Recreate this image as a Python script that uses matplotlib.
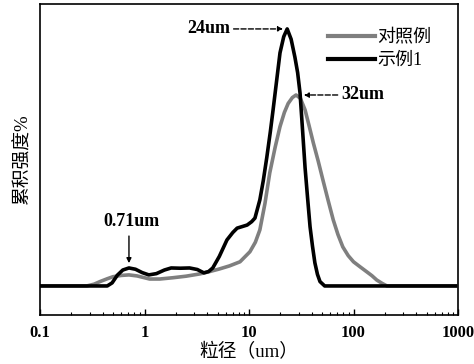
import numpy as np
import matplotlib
matplotlib.use("Agg")
from matplotlib import pyplot as plt

# particle size distribution (x in um, y in arbitrary units)
size_ctrl = [0.1, 0.28, 0.33, 0.375, 0.44, 0.5, 0.6, 0.71, 0.85, 1.12, 1.4, 1.87, 2.5, 3.4,
             4.2, 5.2, 6.5, 8.2, 10.2, 11.5, 12.7, 14.2, 15.8, 17.8, 19.8, 21.8, 23.7, 26,
             28.2, 31, 34.4, 37.5, 41.3, 46, 51, 57, 64, 71, 79, 89, 100, 116, 134, 150,
             167, 188, 209, 1000]
int_ctrl = [0.0, 0.0, 0.07, 0.17, 0.28, 0.36, 0.41, 0.43, 0.39, 0.27, 0.27, 0.32, 0.38, 0.47,
            0.56, 0.66, 0.78, 0.94, 1.33, 1.7, 2.18, 3.2, 4.4, 5.4, 6.2, 6.75, 7.1, 7.33,
            7.43, 7.3, 6.85, 6.25, 5.56, 4.85, 4.12, 3.35, 2.57, 2.0, 1.52, 1.18, 0.94, 0.74,
            0.55, 0.4, 0.23, 0.1, 0.0, 0.0]

size_ex1 = [0.1, 0.44, 0.49, 0.55, 0.62, 0.71, 0.82, 0.95, 1.1, 1.3, 1.55, 1.8, 2.2, 2.7,
            3.2, 3.7, 4.1, 4.5, 5.2, 6.15, 7.0, 7.7, 8.6, 9.6, 10.6, 11.4, 12.7, 13.7, 14.8,
            16.0, 17.0, 18.4, 19.8, 21.5, 23.2, 25.3, 27.5, 29.2, 30.8, 32.5, 34.4, 36.4,
            38.4, 40.5, 42.7, 45.2, 47.8, 53, 940]
int_ex1 = [0.0, 0.0, 0.12, 0.42, 0.62, 0.70, 0.65, 0.52, 0.43, 0.48, 0.62, 0.70, 0.69, 0.70,
           0.64, 0.51, 0.56, 0.70, 1.15, 1.79, 2.08, 2.25, 2.31, 2.37, 2.5, 2.64, 3.35, 4.1,
           5.0, 6.0, 6.85, 8.0, 9.07, 9.7, 10.0, 9.6, 8.9, 8.3, 7.5, 6.1, 4.6, 3.4,
           2.3, 1.55, 0.9, 0.45, 0.17, 0.0, 0.0]

xticks = [0.1, 1, 10, 100, 1000]
xticklabels = ["0.1", "1", "10", "100", "1000"]

cjk = ["Liberation Serif", "Noto Sans CJK SC"]

fig = plt.figure(figsize=(4.74, 3.64), dpi=100)
ax = fig.add_axes([40 / 474, 49 / 364, 418 / 474, 311 / 364])

ax.plot(size_ctrl, int_ctrl, color="#7f7f7f", lw=2.6, label="对照例", solid_joinstyle="round")
ax.plot(size_ex1, int_ex1, color="black", lw=2.6, label="示例1", solid_joinstyle="round")

ax.set_xscale("log")
ax.set_xlim(0.1, 1000)
ax.set_ylim(-1.13, 10.97)
ax.set_yticks([])
ax.set_xticks(xticks)
ax.set_xticklabels(xticklabels, fontfamily="Liberation Serif", fontweight="bold", fontsize=12)
ax.tick_params(axis="x", which="major", direction="in", length=4, width=1, pad=7)
ax.tick_params(axis="x", which="minor", direction="in", length=2.5, width=0.8)
for s in ax.spines.values():
    s.set_linewidth(1.2)

ax.set_xlabel("粒径（um）", family=cjk, fontsize=13.5, labelpad=2)
ax.set_ylabel("累积强度%", family=cjk, fontsize=13.5, labelpad=6)

# annotations
bold = dict(fontfamily="Liberation Serif", fontweight="bold", fontsize=13)
ax.annotate("", xy=(22.5, 10.0), xytext=(6.7, 10.0),
            arrowprops=dict(arrowstyle="-|>", ls="--", lw=1, color="black", mutation_scale=7))
ax.text(6.6, 10.0, "24um", ha="right", va="center", **bold)

ax.annotate("", xy=(31.5, 7.43), xytext=(75, 7.43),
            arrowprops=dict(arrowstyle="-|>", ls="--", lw=1, color="black", mutation_scale=7))
ax.text(76, 7.43, "32um", ha="left", va="center", **bold)

ax.annotate("", xy=(0.71, 0.78), xytext=(0.71, 2.05),
            arrowprops=dict(arrowstyle="-|>", lw=1, color="black", mutation_scale=7))
ax.text(0.75, 2.5, "0.71um", ha="center", va="center", **bold)

leg = ax.legend(loc="upper right", bbox_to_anchor=(0.975, 0.97), frameon=False,
                prop={"family": cjk, "size": 13}, handlelength=2.6, handletextpad=0.15,
                labelspacing=0.3)
for line in leg.get_lines():
    line.set_linewidth(3)

fig.savefig("out.png", dpi=100)
